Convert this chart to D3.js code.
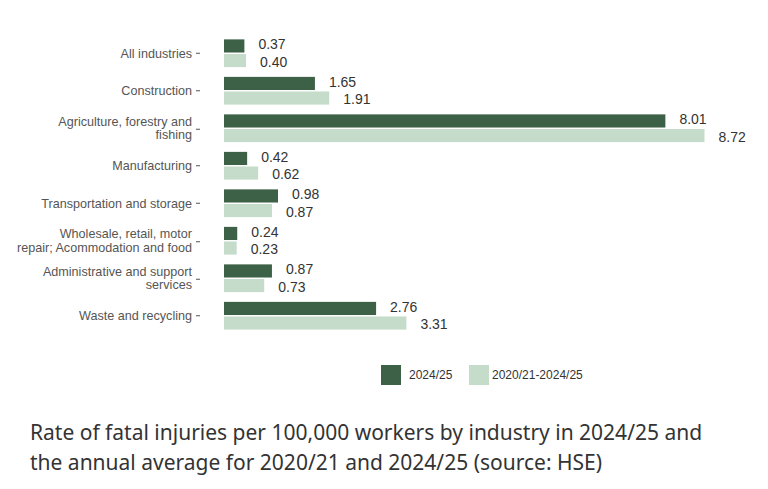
<!DOCTYPE html>
<html><head><meta charset="utf-8">
<script src="https://cdn.jsdelivr.net/npm/d3@7"></script>
<style>
body{margin:0;background:#fff;}
svg{display:block;}
</style></head>
<body>
<script>
const categories = [
  ["All industries"],
  ["Construction"],
  ["Agriculture, forestry and", "fishing"],
  ["Manufacturing"],
  ["Transportation and storage"],
  ["Wholesale, retail, motor", "repair; Acommodation and food"],
  ["Administrative and support", "services"],
  ["Waste and recycling"]
];
const seriesNames = ["2024/25", "2020/21-2024/25"];
const values2425 = [0.37, 1.65, 8.01, 0.42, 0.98, 0.24, 0.87, 2.76];
const valuesAvg = [0.40, 1.91, 8.72, 0.62, 0.87, 0.23, 0.73, 3.31];
const colors = ["#3d6146", "#c6dcca"];
const captionLines = [
  "Rate of fatal injuries per 100,000 workers by industry in 2024/25 and",
  "the annual average for 2020/21 and 2024/25 (source: HSE)"
];

const W = 768, H = 489;
const svg = d3.select("body").append("svg").attr("width", W).attr("height", H);

const x = d3.scaleLinear().domain([0, 8.72]).range([224, 704.5]);
const y = d3.scaleBand().domain(d3.range(categories.length)).range([33, 336]).paddingInner(0.26).paddingOuter(0.17);
const inner = d3.scaleBand().domain([0, 1]).range([0, y.bandwidth()]).paddingInner(0.1);

const series = [values2425, valuesAvg];

const g = svg.append("g");
series.forEach((vals, si) => {
  g.selectAll(".bar" + si).data(vals).enter().append("rect")
    .attr("x", x(0))
    .attr("y", (d, i) => y(i) + inner(si))
    .attr("width", d => x(d) - x(0))
    .attr("height", inner.bandwidth())
    .attr("fill", colors[si]);
  g.selectAll(".lab" + si).data(vals).enter().append("text")
    .attr("x", d => x(d) + 14)
    .attr("y", (d, i) => y(i) + inner(si) + inner.bandwidth() / 2 + (si === 0 ? -1.5 : 1.5))
    .attr("dy", "0.35em")
    .attr("font-family", "Liberation Sans, Arial, sans-serif")
    .attr("font-size", 14)
    .attr("fill", "#333")
    .text(d => d.toFixed(2));
});

// category axis
const ax = svg.append("g");
categories.forEach((lines, i) => {
  const cy = y(i) + y.bandwidth() / 2;
  ax.append("line").attr("x1", 196).attr("x2", 200).attr("y1", cy + (lines.length > 1 ? 1 : 0)).attr("y2", cy + (lines.length > 1 ? 1 : 0))
    .attr("stroke", "#555").attr("stroke-width", 1);
  const t = ax.append("text")
    .attr("text-anchor", "end")
    .attr("font-family", "Liberation Sans, Arial, sans-serif")
    .attr("font-size", 12.6)
    .attr("fill", "#555");
  lines.forEach((l, k) => {
    t.append("tspan").attr("x", 192)
      .attr("y", cy + (k - (lines.length - 1) / 2) * 13.5)
      .attr("dy", "0.35em")
      .text(l);
  });
});

// legend
const leg = svg.append("g");
const legX = [381, 469];
const legTextX = [409, 492];
seriesNames.forEach((n, i) => {
  leg.append("rect").attr("x", legX[i]).attr("y", 365).attr("width", 20).attr("height", 20).attr("fill", colors[i]);
  leg.append("text").attr("x", legTextX[i]).attr("y", 375).attr("dy", "0.35em")
    .attr("font-family", "Liberation Sans, Arial, sans-serif").attr("font-size", 12).attr("fill", "#333").text(n);
});

// caption
captionLines.forEach((l, i) => {
  svg.append("text").attr("x", 30).attr("y", 440 + i * 30)
    .attr("font-family", "Noto Sans, sans-serif").attr("font-size", 21).attr("fill", "#333")
    .text(l);
});
</script>
</body></html>
